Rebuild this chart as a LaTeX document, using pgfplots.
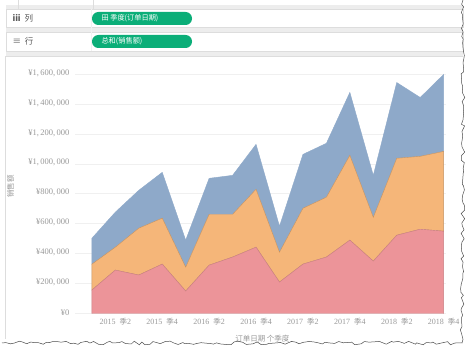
\documentclass[border=0pt]{standalone}
\usepackage{pgfplots}
\pgfplotsset{compat=1.18}
\usepackage{fontspec}
\setmainfont{Liberation Serif}
\newfontfamily\cjk{Noto Sans CJK SC}
\newcommand{\ji}{{\cjk\fontsize{7.5}{8}\selectfont 季}}
\usetikzlibrary{decorations.pathmorphing}
\definecolor{cblue}{HTML}{8EA9C9}
\definecolor{corange}{HTML}{F5B679}
\definecolor{cred}{HTML}{EC9499}
\definecolor{cgreen}{HTML}{0BAE78}
\definecolor{ctext}{HTML}{999999}
\definecolor{cframe}{HTML}{DDDDDD}
\pgfmathsetseed{7}
\begin{document}
\begin{tikzpicture}[x=1pt,y=1pt]
\path[use as bounding box] (0,0) rectangle (474,353);
\fill[white] (0,0) rectangle (474,353);
% shelves
\fill[black!7] (6,344) rectangle (463,348);
\fill[black!7] (6,321) rectangle (463,326);
\fill[black!7] (6,297) rectangle (463,302);
\draw[cframe,fill=white] (6,326) rectangle (463,344);
\draw[cframe,fill=white] (6,302) rectangle (463,321);
\draw[black!5] (91,302) -- (91,344);
\draw[cframe] (18,353) -- (18,344) (93,353)--(93,344);
\node[anchor=west,text=black!65,font=\cjk\fontsize{8.5}{8}\selectfont] at (9,335) {\textbf{iii}\ \ 列};
\node[anchor=west,text=black!65,font=\cjk\fontsize{8.5}{8}\selectfont] at (9,312) {≡\ \ 行};
\fill[cgreen,rounded corners=6.4pt] (92,328) rectangle (192,341);
\fill[cgreen,rounded corners=6.4pt] (92,305) rectangle (192,318);
\node[anchor=west,text=white,font=\cjk\fontsize{7.2}{7}\selectfont] at (98,334.5) {田 季度(订单日期)};
\node[anchor=west,text=white,font=\cjk\fontsize{7.2}{7}\selectfont] at (98,311.5) {总和(销售额)};
% sheet frame
\draw[cframe,line width=1.2pt] (5.5,14) -- (5.5,297);
\draw[cframe] (5.5,297) -- (463,297);
\begin{axis}[
  at={(75pt,39.5pt)},anchor=south west,
  width=371pt,height=239.5pt,scale only axis,
  xmin=-0.72,xmax=15.1,ymin=0,ymax=1600000,
  axis line style={draw=none},
  ymajorgrids,grid style={black!6,line width=.5pt},
  tick style={draw=none},
  scaled ticks=false,
  xtick={1,3,5,7,9,11,13,15},
  xticklabels={2015\ \ \ji 2,2015\ \ \ji 4,2016\ \ \ji 2,2016\ \ \ji 4,2017\ \ \ji 2,2017\ \ \ji 4,2018\ \ \ji 2,2018\ \ \ji 4},
  ytick={0,200000,400000,600000,800000,1000000,1200000,1400000,1600000},
  yticklabels={¥0,{¥200,\,000},{¥400,\,000},{¥600,\,000},{¥800,\,000},{¥1,\,000,\,000},{¥1,\,200,\,000},{¥1,\,400,\,000},{¥1,\,600,\,000}},
  ticklabel style={text=ctext,font=\fontsize{8.5}{8}\selectfont},
  y tick label style={xshift=-2pt,yshift=1pt},
  x tick label style={font=\fontsize{8}{8}\selectfont,yshift=-1pt},
  ylabel={\cjk 销售额},ylabel style={text=ctext,font=\fontsize{7.5}{7}\selectfont,at={(axis description cs:-0.155,0.53)}},
  xlabel={\cjk 订单日期 个季度},xlabel style={text=ctext,font=\fontsize{7.5}{7}\selectfont,at={(axis description cs:0.505,-0.075)}},
  stack plots=y,area style,axis on top=false,
  clip=false,
]
\addplot[fill=cred,draw=black!15!cred,line width=.4pt] coordinates {(0,156700)(1,290000)(2,257000)(3,330000)(4,150000)(5,323000)(6,377000)(7,443000)(8,210000)(9,330000)(10,377000)(11,490000)(12,350000)(13,523000)(14,563000)(15,550000)} \closedcycle;
\addplot[fill=corange,draw=black!20!corange,line width=.4pt] coordinates {(0,173000)(1,153000)(2,313000)(3,307000)(4,160000)(5,340000)(6,286000)(7,387000)(8,200000)(9,373000)(10,400000)(11,567000)(12,293000)(13,514000)(14,487000)(15,533000)} \closedcycle;
\addplot[fill=cblue,draw=cblue,line width=.4pt] coordinates {(0,173000)(1,234000)(2,253000)(3,306000)(4,180000)(5,240000)(6,260000)(7,300000)(8,173000)(9,360000)(10,360000)(11,420000)(12,280000)(13,506000)(14,393000)(15,514000)} \closedcycle;
\end{axis}
% torn edge
\fill[white] (0,0) rectangle (474,10);
\fill[white] (465,0) rectangle (474,353);
\draw[black!70,line width=.5pt,decorate,decoration={random steps,segment length=4pt,amplitude=1.8pt}] (2,10) -- (462,10) -- (463,150) -- (463,353);
\end{tikzpicture}
\end{document}
